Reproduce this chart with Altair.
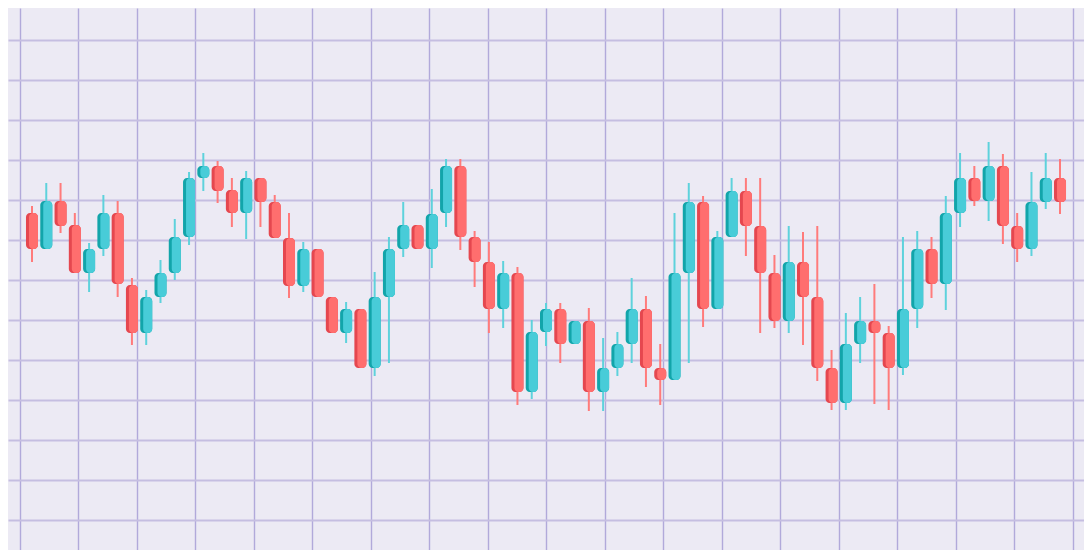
import altair as alt
import pandas as pd

opens = [86.75, 77.75, 89.75, 83.75, 71.75, 77.75, 86.75, 68.75, 56.75, 65.75,
         71.75, 80.75, 95.5, 98.5, 92.5, 86.75, 95.5, 89.5, 80.5, 68.5,
         77.75, 65.75, 56.75, 62.75, 48, 65.75, 77.75, 83.75, 77.75, 86.75,
         98.5, 80.75, 74.5, 62.75, 71.75, 42, 57, 62.75, 54, 59.75,
         42, 48, 54, 62.75, 48, 45, 71.75, 89.5, 62.75, 80.75,
         92.25, 83.5, 71.75, 59.75, 74.5, 65.75, 48, 39.25, 54, 59.75,
         56.75, 48, 62.75, 77.75, 69, 86.75, 95.5, 89.75, 98.5, 83.5,
         77.75, 89.5, 95.5]
closes = [77.75, 89.75, 83.5, 71.75, 77.75, 86.75, 69, 56.75, 65.75, 71.75,
          80.75, 95.5, 98.5, 92.25, 86.75, 95.5, 89.5, 80.5, 68.5, 77.75,
          65.75, 56.75, 62.75, 48, 65.75, 77.75, 83.75, 77.75, 86.5, 98.5,
          80.75, 74.5, 62.75, 71.75, 42, 57, 62.75, 54, 59.75, 42,
          48, 54, 62.75, 48, 45, 71.75, 89.5, 62.75, 80.75, 92.25,
          83.5, 71.75, 59.75, 74.5, 65.75, 48, 39.25, 54, 59.75, 56.75,
          48, 62.75, 77.75, 69, 86.75, 95.5, 89.75, 98.5, 83.5, 77.75,
          89.5, 95.5, 89.5]
highs = [88.5, 94.25, 94.25, 86.75, 79.25, 91.25, 89.75, 70.5, 67.5, 75,
         85.25, 97, 101.75, 99.75, 95.5, 97.25, 95.5, 91.25, 86.75, 79.5,
         77.75, 65.75, 64.5, 62.75, 72, 80.75, 89.5, 83.75, 92.75, 100.25,
         100.25, 82.25, 79.5, 74.75, 73.25, 60, 64.25, 64.25, 59.75, 63,
         55.5, 57, 70.5, 66, 54, 86.75, 94.25, 91, 82.25, 95.5,
         95.5, 95.5, 76.25, 83.5, 82, 83.5, 52.5, 61.75, 65.75, 69,
         58.5, 80.75, 82.25, 80.75, 91, 101.75, 98.5, 104.5, 101.5, 86.75,
         97, 101.75, 100.25]
lows = [74.5, 77.75, 81.75, 71.75, 67, 76, 65.75, 53.75, 53.75, 64.25,
        70, 78.75, 92.25, 89.25, 83.25, 80.25, 83.25, 80.5, 65.5, 67,
        65.75, 56.75, 54.25, 48, 46, 49.25, 75.75, 77.75, 73, 83.25,
        77.5, 68.25, 56.75, 58, 38.75, 40.25, 53.5, 49.25, 54, 37.25,
        37.25, 46, 49.25, 43.25, 38.75, 45, 49.25, 58.25, 62.75, 80.75,
        76, 56.75, 58, 56.75, 53.75, 44.75, 37.5, 37.5, 49.25, 39,
        37.5, 46.25, 58, 65.5, 62.5, 83.25, 88.5, 84.75, 79, 74.5,
        76, 87.75, 86.5]

df = pd.DataFrame({
    "t": list(range(len(opens))),
    "open": opens,
    "close": closes,
    "high": highs,
    "low": lows,
})

W, H = 1076, 542
x_scale = alt.Scale(domain=[-1.68, 73.68], nice=False, zero=False, padding=0)
y_scale = alt.Scale(domain=[2.5, 138], nice=False, zero=False, padding=0)
grid_x = [(-12 + 58.5 * k) / 14.278 for k in range(19)]
grid_y = list(range(10, 140, 10))

x_axis = alt.Axis(values=grid_x, grid=True, gridColor="#B1A9DA", gridWidth=1.4,
                  labels=False, ticks=False, domain=False, title=None)
y_axis = alt.Axis(values=grid_y, grid=True, gridColor="#C5BEE1", gridWidth=2,
                  labels=False, ticks=False, domain=False, title=None)

up = "datum.close > datum.open"
base = alt.Chart(df).encode(x=alt.X("t:Q", scale=x_scale, axis=x_axis))

wicks = base.mark_rule(strokeWidth=2).encode(
    y=alt.Y("low:Q", scale=y_scale, axis=y_axis),
    y2="high:Q",
    color=alt.condition(up, alt.value("#5ED2DC"), alt.value("#FF7B7B")),
)
dark = base.mark_bar(size=12, cornerRadius=4).encode(
    y=alt.Y("open:Q", scale=y_scale, axis=y_axis),
    y2="close:Q",
    color=alt.condition(up, alt.value("#12A5AA"), alt.value("#E5474F")),
)
light = base.mark_bar(size=9, cornerRadius=4, xOffset=1.5).encode(
    y=alt.Y("open:Q", scale=y_scale, axis=y_axis),
    y2="close:Q",
    color=alt.condition(up, alt.value("#48CCD8"), alt.value("#FF6E6E")),
)

chart = alt.layer(wicks, dark, light).properties(
    width=W, height=H, padding=0,
    autosize=alt.AutoSizeParams(type="none"),
    background="white",
).configure_view(fill="#ECEAF4", stroke=None)

chart.save("out.html", embed_options={"renderer": "svg", "actions": False})
